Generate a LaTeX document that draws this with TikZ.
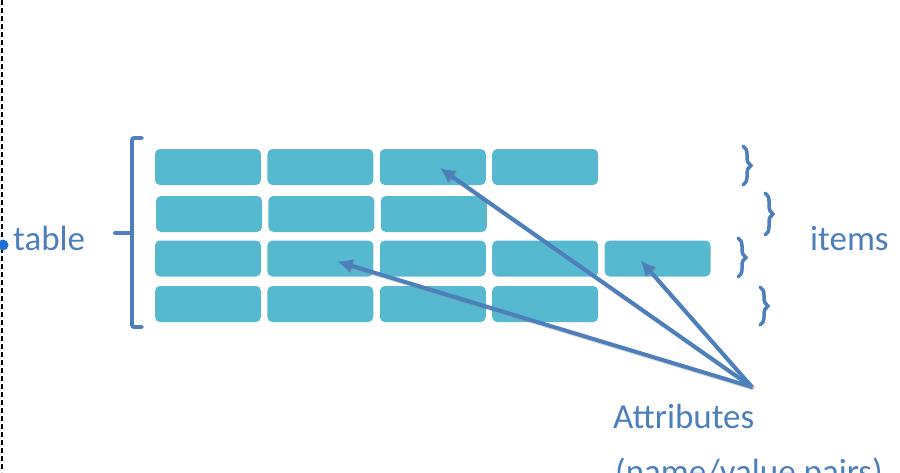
\documentclass[tikz,border=0pt]{standalone}
\usepackage{fontspec}
\setmainfont{Carlito}
\usetikzlibrary{arrows.meta,calc,positioning,decorations.pathreplacing}
\definecolor{cellteal}{RGB}{87,185,207}
\definecolor{itemblue}{RGB}{76,128,189}
\definecolor{dotblue}{RGB}{30,112,210}
\tikzset{
    x=1pt,y=-1pt,
    cell/.style ={rectangle, fill=cellteal, rounded corners=5pt, minimum width=106pt, minimum height=36pt, inner sep=0pt},
    lbl/.style = {inner sep=0pt, anchor=base west, text=itemblue, font=\fontsize{35}{54}\selectfont},
    attr/.style = {draw=itemblue, line width=4pt, -{Latex[length=15pt,width=15pt]},
        preaction={draw=black!50, opacity=0.3, line width=4pt, transform canvas={shift={(1.5pt,-1.5pt)}}}},
    brk/.style = {draw=itemblue, line width=3.8pt, line cap=round, rounded corners=2pt}
}
\begin{document}
\begin{tikzpicture}
    \useasboundingbox (0,0) rectangle (900,472);
    \draw[dashed, line width=1.4pt, dash pattern=on 5pt off 3pt] (2,0) -- (2,472);
    \fill[dotblue] (3,245) circle (5.5);

    % rows of items
    \foreach \r/\n/\y/\dx in {1/4/167/0, 2/3/214/1, 3/5/258.5/0, 4/4/304/0}
        \foreach \c in {1,...,\n}
            \node[cell] (c\r\c) at ({208+\dx+(\c-1)*112.4},\y) {};

    \node[lbl] (table) at (13,250) {table};
    \node[lbl] (items) at (810,250) {items};
    \node[lbl] (attrib) at (613,428) {Attributes};
    \node[lbl] (pairs) at (615,483) {(name/value pairs)};

    % table bracket
    \draw[brk] (142,138) -- (132,138) -- (132,327) -- (142,327);
    \draw[brk] (132,233) -- (115,233);

    % item braces
    \foreach \bx/\ya/\yb in {743/146/185, 765/193/235, 738/238/277, 760/287/325}
        \draw[itemblue, line width=3.5pt, line cap=round, decorate, decoration={brace, amplitude=8pt}] (\bx,\ya) -- (\bx,\yb);

    \coordinate (src) at (752,387);
    \draw[attr] (src) -- ($(c13.center)+(7,1)$);
    \draw[attr] (src) -- ($(c32.center)+(17,3)$);
    \draw[attr] (src) -- ($(c35.center)+(-17,2)$);
\end{tikzpicture}
\end{document}
